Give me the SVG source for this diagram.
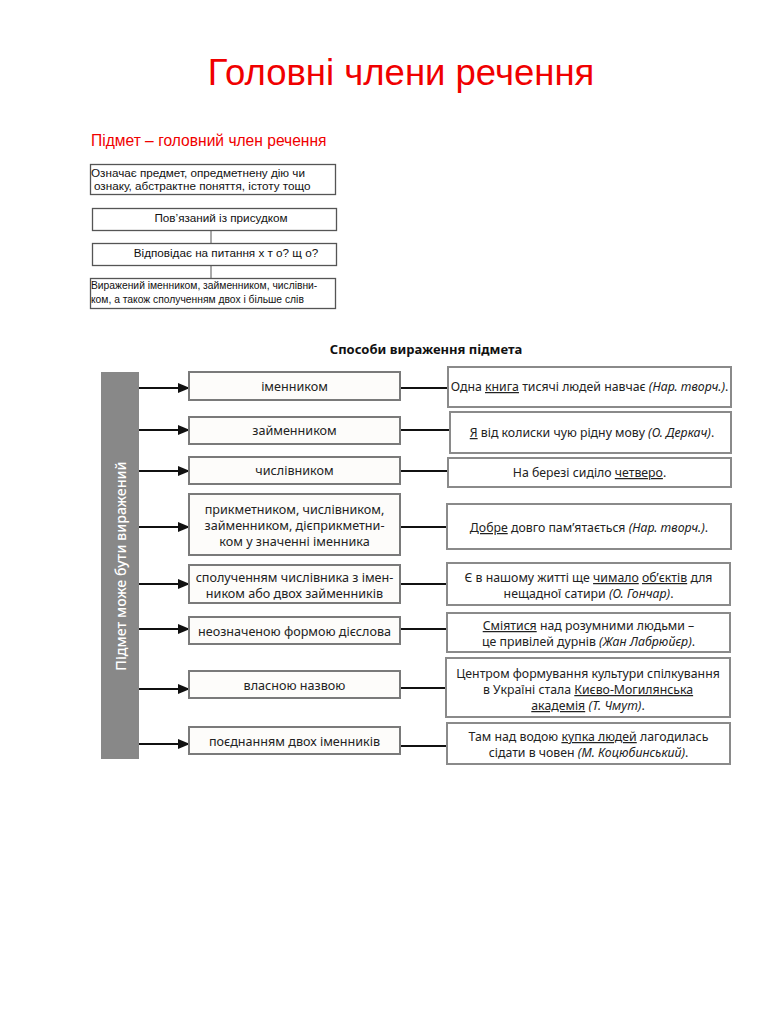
<svg xmlns="http://www.w3.org/2000/svg" width="768" height="1024" viewBox="0 0 768 1024">
<defs>
<marker id="ah" markerWidth="12" markerHeight="10" refX="11" refY="5" orient="auto" markerUnits="userSpaceOnUse">
<path d="M0,0 L12,5 L0,10 Z" fill="#111"/>
</marker>
<style>
.red{font-family:"Liberation Sans",Arial,sans-serif;fill:#f00000}
.t1{font-family:"Liberation Sans",Arial,sans-serif;font-size:11.7px;fill:#111}
.t2{font-family:"Liberation Sans",Arial,sans-serif;font-size:10.3px;fill:#111}
.bx{fill:#fff;stroke:#555;stroke-width:1.3}
.mb{fill:#fdfcfa;stroke:#7a7a7a;stroke-width:2}
.rb{fill:#fff;stroke:#8a8a8a;stroke-width:2}
.s{font-family:"Noto Sans","Open Sans",sans-serif;font-size:12.6px;fill:#222;text-anchor:middle}
.r{font-size:12.3px}
.i{font-style:italic}
.u{text-decoration:underline}
.ln{stroke:#111;stroke-width:2;fill:none}
.thin{stroke:#555;stroke-width:1;fill:none}
</style>
</defs>
<rect width="768" height="1024" fill="#fff"/>

<text class="red" x="401" y="85" font-size="36.5" text-anchor="middle">Головні члени речення</text>
<text class="red" x="91" y="146" font-size="15.6">Підмет – головний член речення</text>

<g id="top-connectors">
<line class="thin" x1="211" y1="230" x2="211" y2="243"/>
<line class="thin" x1="211" y1="265" x2="211" y2="278"/>
</g>
<g id="p1">
<rect class="bx" x="90.5" y="164.5" width="245" height="30"/>
<text class="t1" x="91" y="177">Означає предмет, опредметнену дію чи</text>
<text class="t1" x="94" y="190">ознаку, абстрактне поняття, істоту тощо</text>
</g>
<g id="p2">
<rect class="bx" x="92.5" y="208.5" width="244" height="22"/>
<text class="t1" x="221" y="222" text-anchor="middle">Пов’язаний із присудком</text>
</g>
<g id="p3">
<rect class="bx" x="92.5" y="243.5" width="244" height="22"/>
<text class="t1" x="226" y="257" text-anchor="middle">Відповідає на питання х т о? щ о?</text>
</g>
<g id="p4">
<rect class="bx" x="90.5" y="278.5" width="245" height="30"/>
<text class="t2" x="91" y="289">Виражений іменником, займенником, числівни-</text>
<text class="t2" x="91" y="303">ком, а також сполученням двох і більше слів</text>
</g>

<text x="426" y="354" font-family="Noto Sans,Open Sans,sans-serif" font-size="13" font-weight="bold" fill="#111" text-anchor="middle">Способи вираження підмета</text>

<g id="bar">
<rect x="101" y="372" width="38" height="387" fill="#888"/>
<text x="126" y="566" transform="rotate(-90 126 566)" font-family="Noto Sans,Open Sans,sans-serif" font-size="14.2" font-weight="500" fill="#fff" text-anchor="middle">Підмет може бути виражений</text>
</g>

<g id="connectors">
<line class="ln" x1="139" y1="388" x2="189" y2="388" marker-end="url(#ah)"/>
<line class="ln" x1="139" y1="430" x2="189" y2="430" marker-end="url(#ah)"/>
<line class="ln" x1="139" y1="471" x2="189" y2="471" marker-end="url(#ah)"/>
<line class="ln" x1="139" y1="527" x2="189" y2="527" marker-end="url(#ah)"/>
<line class="ln" x1="139" y1="584" x2="189" y2="584" marker-end="url(#ah)"/>
<line class="ln" x1="139" y1="629" x2="189" y2="629" marker-end="url(#ah)"/>
<line class="ln" x1="139" y1="689" x2="189" y2="689" marker-end="url(#ah)"/>
<line class="ln" x1="139" y1="744" x2="189" y2="744" marker-end="url(#ah)"/>
<line class="ln" x1="400" y1="388" x2="448" y2="388"/>
<line class="ln" x1="400" y1="430" x2="450" y2="430"/>
<line class="ln" x1="400" y1="471" x2="448" y2="471"/>
<line class="ln" x1="400" y1="527" x2="447" y2="527"/>
<line class="ln" x1="400" y1="584" x2="447" y2="584"/>
<line class="ln" x1="400" y1="629" x2="447" y2="629"/>
<line class="ln" x1="400" y1="688" x2="446" y2="688"/>
<line class="ln" x1="400" y1="746" x2="447" y2="746"/>
</g>

<g id="m1"><rect class="mb" x="189" y="372" width="211" height="28"/><text class="s" x="294.5" y="391">іменником</text></g>
<g id="m2"><rect class="mb" x="189" y="417" width="211" height="27"/><text class="s" x="294.5" y="435">займенником</text></g>
<g id="m3"><rect class="mb" x="189" y="457" width="211" height="27"/><text class="s" x="294.5" y="475">числівником</text></g>
<g id="m4"><rect class="mb" x="189" y="494" width="211" height="61"/>
<text class="s" x="294.5" y="514">прикметником, числівником,</text>
<text class="s" x="294.5" y="530">займенником, дієприкметни-</text>
<text class="s" x="294.5" y="546">ком у значенні іменника</text></g>
<g id="m5"><rect class="mb" x="189" y="565" width="211" height="38"/>
<text class="s" x="294.5" y="582">сполученням числівника з імен-</text>
<text class="s" x="294.5" y="598">ником або двох займенників</text></g>
<g id="m6"><rect class="mb" x="189" y="617" width="211" height="27"/><text class="s" x="294.5" y="636">неозначеною формою дієслова</text></g>
<g id="m7"><rect class="mb" x="189" y="671" width="211" height="27"/><text class="s" x="294.5" y="690">власною назвою</text></g>
<g id="m8"><rect class="mb" x="189" y="727" width="211" height="27"/><text class="s" x="294.5" y="746">поєднанням двох іменників</text></g>

<g id="r1"><rect class="rb" x="448" y="367" width="283" height="40"/>
<text class="s r" x="589.5" y="391" font-size="12">Одна <tspan class="u">книга</tspan> тисячі людей навчає <tspan class="i">(Нар. творч.)</tspan>.</text></g>
<g id="r2"><rect class="rb" x="450" y="412" width="281" height="41"/>
<text class="s r" x="592" y="437"><tspan class="u">Я</tspan> від колиски чую рідну мову <tspan class="i">(О. Деркач)</tspan>.</text></g>
<g id="r3"><rect class="rb" x="448" y="458" width="283" height="29"/>
<text class="s r" x="589.5" y="477">На березі сиділо <tspan class="u">четверо</tspan>.</text></g>
<g id="r4"><rect class="rb" x="447" y="504" width="284" height="45"/>
<text class="s r" x="589" y="532"><tspan class="u">Добре</tspan> довго пам’ятається <tspan class="i">(Нар. творч.)</tspan>.</text></g>
<g id="r5"><rect class="rb" x="447" y="563" width="283" height="42"/>
<text class="s r" x="588.5" y="582">Є в нашому житті ще <tspan class="u">чимало</tspan> <tspan class="u">об’єктів</tspan> для</text>
<text class="s r" x="588.5" y="598">нещадної сатири <tspan class="i">(О. Гончар)</tspan>.</text></g>
<g id="r6"><rect class="rb" x="447" y="613" width="283" height="39"/>
<text class="s r" x="588.5" y="630"><tspan class="u">Сміятися</tspan> над розумними людьми –</text>
<text class="s r" x="588.5" y="646">це привілей дурнів <tspan class="i">(Жан Лабрюйєр)</tspan>.</text></g>
<g id="r7"><rect class="rb" x="446" y="658" width="284" height="59"/>
<text class="s r" x="588" y="678">Центром формування культури спілкування</text>
<text class="s r" x="588" y="694">в Україні стала <tspan class="u">Києво-Могилянська </tspan></text>
<text class="s r" x="588" y="710"><tspan class="u">академія</tspan> <tspan class="i">(Т. Чмут)</tspan>.</text></g>
<g id="r8"><rect class="rb" x="447" y="723" width="283" height="41"/>
<text class="s r" x="588.5" y="741">Там над водою <tspan class="u">купка людей</tspan> лагодилась</text>
<text class="s r" x="588.5" y="757">сідати в човен <tspan class="i">(М. Коцюбинський)</tspan>.</text></g>
</svg>
